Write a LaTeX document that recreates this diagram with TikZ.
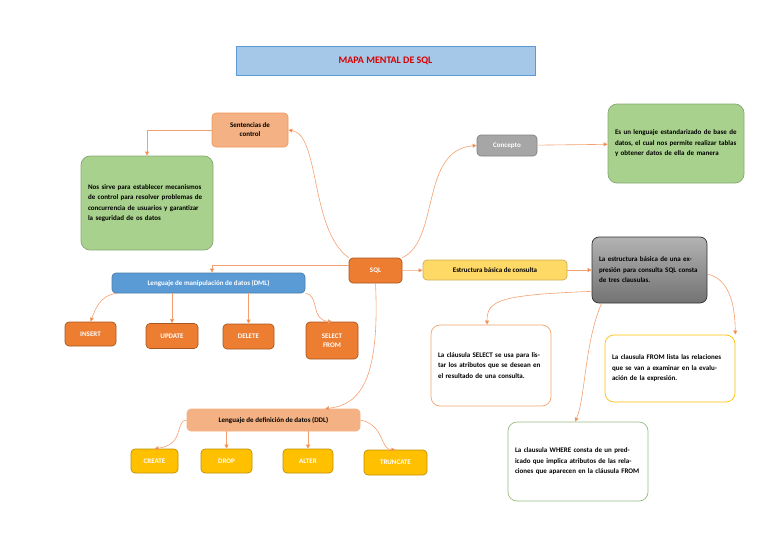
\documentclass[tikz,border=0pt]{standalone}
\usepackage{fontspec}
\setmainfont{Carlito}
\usetikzlibrary{arrows.meta}
\definecolor{org}{HTML}{ED7D31}
\definecolor{ln}{HTML}{F4A070}
\definecolor{salm}{HTML}{F4B183}
\definecolor{grn}{HTML}{A9D18E}
\definecolor{blu}{HTML}{5B9BD5}
\definecolor{ylw}{HTML}{FFC000}
\definecolor{lylw}{HTML}{FFD966}
\tikzset{
 bx/.style={rounded corners=4pt, draw, line width=0.7pt, align=center, font=\bfseries\fontsize{7}{9}\selectfont, inner sep=2pt},
 op/.style={bx, fill=org, draw=org!70!black, text=white},
 yb/.style={bx, fill=ylw, draw=ylw!75!black, text=white},
 note/.style={bx, rounded corners=9pt, align=left, font=\bfseries\fontsize{7}{10.5}\selectfont, inner sep=6pt},
 con/.style={draw=ln, line width=0.6pt, -{Triangle[length=4pt,width=4pt,fill=org]}},
}
\begin{document}
\begin{tikzpicture}[x=1pt,y=-1pt]
\useasboundingbox (0,0) rectangle (768,543);
\node[draw=blu, fill=blu!55!white, minimum width=299, minimum height=29, font=\bfseries\fontsize{10}{12}\selectfont, text=red!85!black] (title) at (385.5,60.5) {MAPA MENTAL DE SQL};

\node[bx, fill=salm, draw=org!80, minimum width=76, minimum height=34] (sent) at (250,130) {Sentencias de\\control};
\node[note, fill=grn, draw=grn!80!black, minimum width=132, minimum height=94, text width=118] (gn1) at (147,203) {Nos sirve para establecer mecanismos de control para resolver problemas de concurrencia de usuarios y garantizar la seguridad de os datos};
\node[bx, fill=gray!70, draw=gray, text=white, minimum width=60, minimum height=21] (conc) at (507,145.5) {Concepto};
\node[note, fill=grn, draw=grn!80!black, minimum width=136, minimum height=79, text width=122] (gn2) at (676,143.5) {Es un lenguaje estandarizado de base de datos, el cual nos permite realizar tablas y obtener datos de ella de manera};
\node[op, minimum width=53, minimum height=25] (sql) at (375.5,270.5) {SQL};
\node[bx, fill=lylw, draw=lylw!80!black, minimum width=144, minimum height=20] (est) at (495,270) {Estructura básica de consulta};
\node[note, top color=gray!60, bottom color=gray!90!black, draw=gray!40!black, minimum width=115, minimum height=66, text width=101, rounded corners=7pt] (gray) at (649.5,270) {La estructura básica de una expresión para consulta SQL consta de tres clausulas.};
\node[bx, fill=blu, draw=blu!80!black, text=white, font=\fontsize{7}{9}\selectfont\bfseries, minimum width=193, minimum height=20] (dml) at (208.5,283) {Lenguaje de manipulación de datos (DML)};
\node[op, minimum width=51, minimum height=24] (ins) at (90.5,334) {INSERT};
\node[op, minimum width=52, minimum height=25] (upd) at (172,336) {UPDATE};
\node[op, minimum width=51, minimum height=25] (del) at (248.5,336.5) {DELETE};
\node[op, minimum width=52, minimum height=37] (sel) at (332,340.5) {SELECT\\FROM};
\node[note, fill=white, draw=org!70, minimum width=120, minimum height=81, text width=106] (cs) at (491,365.5) {La cláusula SELECT se usa para listar los atributos que se desean en el resultado de una consulta.};
\node[note, fill=white, draw=ylw, minimum width=130, minimum height=67, text width=116] (cf) at (670,368.5) {La clausula FROM lista las relaciones que se van a examinar en la evaluación de la expresión.};
\node[bx, fill=salm, draw=org!60, minimum width=173, minimum height=22] (ddl) at (273.5,420) {Lenguaje de definición de datos (DDL)};
\node[yb, minimum width=47, minimum height=24] (cre) at (154.5,461) {CREATE};
\node[yb, minimum width=51, minimum height=24] (drp) at (226.5,461) {DROP};
\node[yb, minimum width=50, minimum height=24] (alt) at (308,461) {ALTER};
\node[yb, minimum width=63, minimum height=25] (tru) at (395.5,462.5) {TRUNCATE};
\node[note, fill=white, draw=grn!90!black, minimum width=140, minimum height=79, text width=126] (cw) at (578,461.5) {La clausula WHERE consta de un predicado que implica atributos de las relaciones que aparecen en la cláusula FROM};

\draw[con] (sql.north west) .. controls (310,230) and (320,135) .. (sent.east);
\draw[con] (sent.west) -| (gn1.north);
\draw[con] (sql.north east) .. controls (440,240) and (420,150) .. (conc.west);
\draw[con] (conc) -- (gn2);
\draw[con] (sql) -- (est);
\draw[con] (est) -- (gray);
\draw[con] (sql.west |- 0,265) -- (212,265) -- (dml.north -| 212,0);
\draw[con] (sql.south) .. controls (380,380) and (360,405) .. (ddl.north east -| 325,0);
\draw[con] (dml.south west) ++(5,0) .. controls (100,295) and (95,310) .. (ins.north);
\draw[con] (dml.south -| upd.north) -- (upd.north);
\draw[con] (dml.south -| del.north) -- (del.north);
\draw[con] (dml.south east) .. controls (320,295) and (310,320) .. (sel.north);
\draw[con] (gray.south west) ++(0,-12) .. controls (500,295) and (487,300) .. (cs.north -| 487,0);
\draw[con] (gray.south west) ++(10,0) .. controls (585,340) and (585,400) .. (cw.north -| 575,0);
\draw[con] (gray.east) ++(0,4) .. controls (735,280) and (735,320) .. (cf.north east);
\draw[con] (ddl.west) .. controls (175,420) and (185,445) .. (cre.north);
\draw[con] (ddl.south -| drp.north) -- (drp.north);
\draw[con] (ddl.south -| alt.north) -- (alt.north);
\draw[con] (ddl.east) .. controls (385,425) and (380,450) .. (tru.north);
\end{tikzpicture}
\end{document}
